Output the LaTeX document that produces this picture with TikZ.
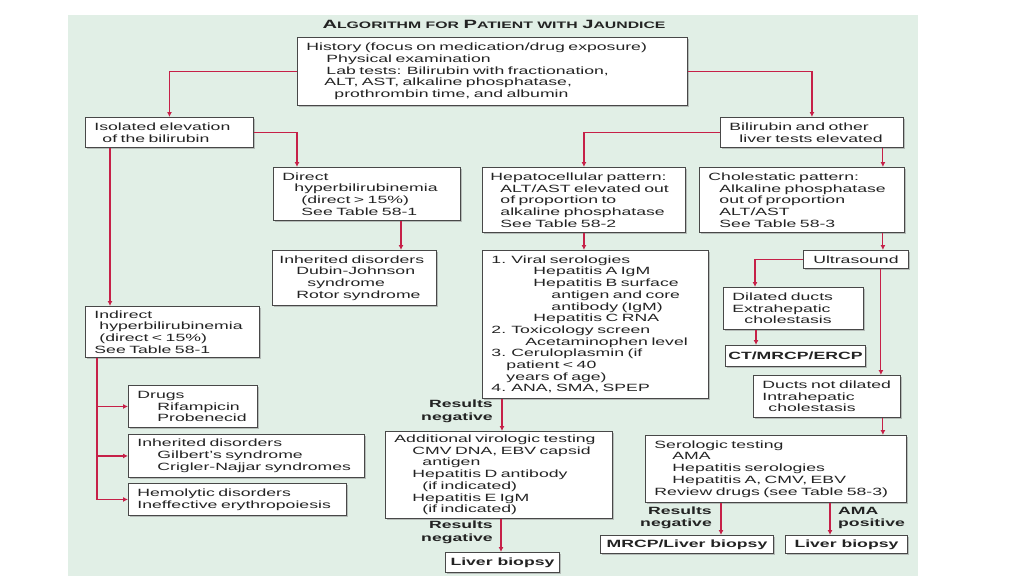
\documentclass[tikz,border=0pt]{standalone}
\usepackage{fontspec}
\setmainfont{Liberation Sans}[FakeStretch=1.68]
\usetikzlibrary{shadows,arrows.meta}
\definecolor{panelgreen}{RGB}{225,239,230}
\definecolor{arrowred}{RGB}{198,32,72}
\definecolor{boxgray}{RGB}{72,72,72}
\definecolor{textgray}{RGB}{35,35,35}
\newcommand*{\indt}[1]{\hspace*{#1pt}}
\newcommand*{\sct}[2]{{\fontsize{12}{14}\selectfont #1}{\fontsize{9.4}{14}\selectfont #2}}

\begin{document}
\begin{tikzpicture}[x=1pt,y=-1pt,>={Latex[length=5pt,width=5pt]},
    box/.style={draw=boxgray,line width=0.9pt,fill=white,anchor=north west,align=left,
        inner xsep=9pt,inner ysep=0pt,text=textgray,font=\fontsize{10.5}{11.7}\selectfont,
        drop shadow={shadow xshift=1.2pt,shadow yshift=-1.2pt,opacity=0.45}},
    cbox/.style={box,align=center,inner xsep=2pt,font=\fontsize{10.5}{11.7}\selectfont\bfseries},
    link/.style={->,draw=arrowred,line width=1.1pt},
    res/.style={text=textgray,font=\fontsize{10.5}{12.5}\selectfont\bfseries,inner sep=0pt}]
                \useasboundingbox (0,0) rectangle (1024,576);
                \fill[white] (0,0) rectangle (1024,576);
                \fill[panelgreen] (68,15) rectangle (918,576);

                \node[text=textgray,font=\bfseries] (title) at (494,24)
                    {\sct{A}{LGORITHM FOR} \sct{P}{ATIENT WITH} \sct{J}{AUNDICE}};

                \node[box,text width=372pt,minimum height=68pt] (hist) at (297,37)
                    {History (focus on medication/drug exposure)\\ \indt{20}Physical examination\\
                     \indt{20}Lab tests: Bilirubin with fractionation,\\ \indt{18}ALT, AST, alkaline phosphatase,\\
                     \indt{28}prothrombin time, and albumin};

                % isolated bilirubin branch
                \node[box,text width=150pt,minimum height=30pt] (iso) at (85,117)
                    {Isolated elevation\\ \indt{8}of the bilirubin};
                \node[box,text width=169pt,minimum height=53pt] (dir) at (273,167)
                    {Direct\\ \indt{12}hyperbilirubinemia\\ \indt{19}(direct > 15\%)\\ \indt{19}See Table 58-1};
                \node[box,text width=150pt,minimum height=55pt,inner xsep=7pt] (inh1) at (272,250)
                    {Inherited disorders\\ \indt{17}Dubin-Johnson\\ \indt{28}syndrome\\ \indt{17}Rotor syndrome};
                \node[box,text width=156pt,minimum height=51pt] (ind) at (85,306)
                    {Indirect\\ \indt{5}hyperbilirubinemia\\ \indt{5}(direct < 15\%)\\ See Table 58-1};
                \node[box,text width=111pt,minimum height=42pt] (drugs) at (128,385)
                    {Drugs\\ \indt{20}Rifampicin\\ \indt{20}Probenecid};
                \node[box,text width=218pt,minimum height=43pt] (inh2) at (128,434)
                    {Inherited disorders\\ \indt{20}Gilbert's syndrome\\ \indt{20}Crigler-Najjar syndromes};
                \node[box,text width=200pt,minimum height=32pt] (hemo) at (128,483)
                    {Hemolytic disorders\\ Ineffective erythropoiesis};

                % other liver tests branch
                \node[box,text width=165pt,minimum height=30pt] (bil) at (720,117)
                    {Bilirubin and other\\ \indt{10}liver tests elevated};
                \node[box,text width=187pt,minimum height=65pt,inner xsep=8pt] (hep) at (482,167)
                    {Hepatocellular pattern:\\ \indt{10}ALT/AST elevated out\\ \indt{10}of proportion to\\
                     \indt{10}alkaline phosphatase\\ \indt{10}See Table 58-2};
                \node[box,text width=187pt,minimum height=65pt] (chol) at (699,167)
                    {Cholestatic pattern:\\ \indt{11}Alkaline phosphatase\\ \indt{11}out of proportion\\
                     \indt{11}ALT/AST\\ \indt{11}See Table 58-3};
                \node[box,text width=208pt,minimum height=148pt] (vir) at (482,250)
                    {1. Viral serologies\\ \indt{42}Hepatitis A IgM\\ \indt{42}Hepatitis B surface\\
                     \indt{60}antigen and core\\ \indt{60}antibody (IgM)\\ \indt{42}Hepatitis C RNA\\
                     2. Toxicology screen\\ \indt{34}Acetaminophen level\\ 3. Ceruloplasmin (if\\
                     \indt{15}patient < 40\\ \indt{15}years of age)\\ 4. ANA, SMA, SPEP};
                \node[box,text width=209pt,minimum height=87pt] (add) at (385,431)
                    {Additional virologic testing\\ \indt{18}CMV DNA, EBV capsid\\ \indt{28}antigen\\
                     \indt{18}Hepatitis D antibody\\ \indt{28}(if indicated)\\ \indt{18}Hepatitis E IgM\\
                     \indt{28}(if indicated)};
                \node[cbox,minimum width=114pt,minimum height=20pt] (lb1) at (445,552) {Liver biopsy};

                \node[box,align=center,inner xsep=2pt,minimum width=105pt,minimum height=18pt] (us) at (803,250) {Ultrasound};
                \node[box,text width=122pt,minimum height=42pt] (dil) at (723,287)
                    {Dilated ducts\\ Extrahepatic\\ \indt{12}cholestasis};
                \node[cbox,minimum width=140pt,minimum height=21pt] (ct) at (725,345) {CT/MRCP/ERCP};
                \node[box,text width=129pt,minimum height=42pt] (duc) at (753,375)
                    {Ducts not dilated\\ Intrahepatic\\ \indt{6}cholestasis};
                \node[box,text width=243pt,minimum height=67pt] (ser) at (645,435)
                    {Serologic testing\\ \indt{18}AMA\\ \indt{18}Hepatitis serologies\\
                     \indt{18}Hepatitis A, CMV, EBV\\ Review drugs (see Table 58-3)};
                \node[cbox,minimum width=173pt,minimum height=18pt] (mrcp) at (600,535) {MRCP/Liver biopsy};
                \node[cbox,minimum width=122pt,minimum height=18pt] (lb2) at (785,535) {Liver biopsy};

                \node[res,anchor=east,align=right] (neg1) at (493,411.5) {Results\\negative};
                \node[res,anchor=east,align=right] (neg2) at (493,532.5) {Results\\negative};
                \node[res,anchor=east,align=right] (neg3) at (712,518) {Results\\negative};
                \node[res,anchor=west,align=left] (pos) at (838,518) {AMA\\positive};

                % connectors
                \coordinate (dirout) at ([xshift=128pt]dir.south west);
                \coordinate (indout) at ([xshift=12pt]ind.south west);
                \coordinate (bilout) at ([xshift=-21pt]bil.south east);
                \coordinate (cholout) at ([xshift=-22pt]chol.south east);
                \coordinate (dilout) at ([xshift=33pt]dil.south west);
                \coordinate (usout) at ([xshift=-28pt]us.south east);
                \coordinate (ducout) at ([xshift=-18pt]duc.south east);
                \coordinate (virout) at ([xshift=20pt]vir.south west);
                \coordinate (addout) at ([xshift=116pt]add.south west);
                \coordinate (serneg) at ([xshift=76pt]ser.south west);
                \coordinate (serpos) at ([xshift=185pt]ser.south west);

                \draw[link] (hist.west) -| (iso.north);
                \draw[link] (iso.east) -| ([xshift=24pt]dir.north west);
                \draw[link] ([xshift=25pt]iso.south west) -- ([xshift=25pt]ind.north west);
                \draw[link] (dirout) -- (dirout |- inh1.north);
                \draw[link] (indout) |- (drugs.west);
                \draw[link] (indout) |- (inh2.west);
                \draw[link] (indout) |- (hemo.west);

                \draw[link] (hist.east) -| (bil.north);
                \draw[link] (bil.west) -| (hep.north);
                \draw[link] (bilout) -- (bilout |- chol.north);
                \draw[link] (hep.south) -- (hep.south |- vir.north);
                \draw[link] (virout) -- (virout |- add.north);
                \draw[link] (addout) -- (addout |- lb1.north);

                \draw[link] (cholout) -- (cholout |- us.north);
                \draw[link] (us.west) -| ([xshift=32pt]dil.north west);
                \draw[link] (dilout) -- (dilout |- ct.north);
                \draw[link] (usout) -- (usout |- duc.north);
                \draw[link] (ducout) -- (ducout |- ser.north);
                \draw[link] (serneg) -- (serneg |- mrcp.north);
                \draw[link] (serpos) -- (serpos |- lb2.north);
\end{tikzpicture}
\end{document}
